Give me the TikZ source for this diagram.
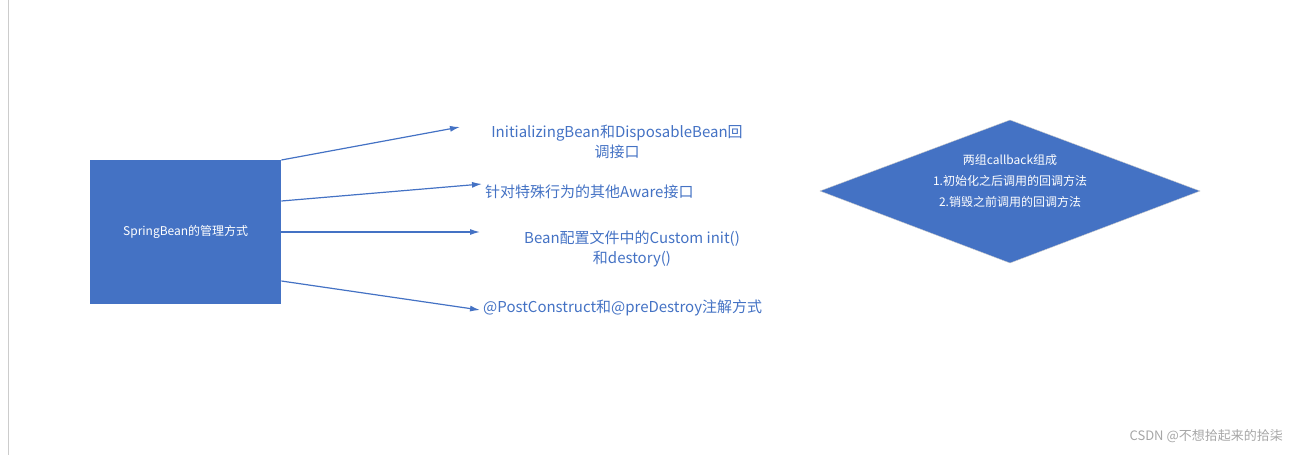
\documentclass[tikz,border=0pt]{standalone}
\usepackage{fontspec}
\setmainfont{Noto Sans CJK SC}
\definecolor{acc}{HTML}{4472C4}
\begin{document}
\begin{tikzpicture}[x=1pt,y=-1pt,
  lbl/.style={text=acc,font=\fontsize{15}{20}\selectfont,align=center,inner sep=0},
  arr/.style={draw=acc,line width=1.2pt,-{Latex[length=10pt,width=6pt]}}]
\useasboundingbox (0,0) rectangle (1297,455);
\usetikzlibrary{arrows.meta}
\draw[gray!40,line width=0.8pt] (8,0) -- (8,455);
\node[fill=acc,minimum width=191pt,minimum height=144pt,inner sep=0,anchor=north west,text=white,font=\fontsize{12}{14}\selectfont] (box) at (90,160) {SpringBean的管理方式};
\coordinate (a1) at (460,127);
\coordinate (a2) at (482,184);
\coordinate (a3) at (480,232);
\coordinate (a4) at (480,310);
\draw[arr] (box.north east) -- (a1);
\draw[arr] ([yshift=-41pt]box.north east) -- (a2);
\draw[arr] ([yshift=-72pt]box.north east) -- (a3);
\draw[arr] ([yshift=-121pt]box.north east) -- (a4);
\node[lbl] (t1) at (617,142) {InitializingBean和DisposableBean回\\调接口};
\node[lbl,anchor=west] (t2) at (485,192) {针对特殊行为的其他Aware接口};
\node[lbl] (t3) at (632,249) {Bean配置文件中的Custom init()\\和destory()};
\node[lbl,anchor=west] (t4) at (483,308) {@PostConstruct和@preDestroy注解方式};
\path[fill=acc,draw=gray!40] (820,191) -- (1010,120) -- (1200,191) -- (1010,263) -- cycle;
\node[text=white,align=center,font=\fontsize{12}{21}\selectfont,inner sep=0] (d) at (1010,181) {两组callback组成\\1.初始化之后调用的回调方法\\2.销毁之前调用的回调方法};
\node[anchor=east,text=gray!70,font=\fontsize{13}{15}\selectfont,inner sep=0] (wm) at (1283,436) {CSDN @不想拾起来的拾柒};
\end{tikzpicture}
\end{document}
